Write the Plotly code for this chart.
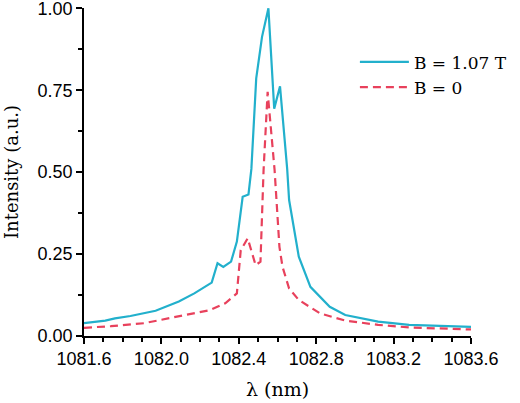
import plotly.graph_objects as go

# B = 1.07 T spectrum
lam_b = [1081.60, 1081.71, 1081.76, 1081.84, 1081.97, 1082.09, 1082.17, 1082.26,
         1082.29, 1082.32, 1082.36, 1082.39, 1082.42, 1082.45, 1082.465, 1082.49,
         1082.52, 1082.553, 1082.583, 1082.613, 1082.65, 1082.66, 1082.71, 1082.77,
         1082.87, 1082.95, 1083.12, 1083.28, 1083.60]
int_b = [0.039, 0.047, 0.054, 0.061, 0.077, 0.105, 0.130, 0.163,
         0.222, 0.211, 0.227, 0.288, 0.425, 0.432, 0.51, 0.786,
         0.913, 1.00, 0.694, 0.762, 0.51, 0.415, 0.242, 0.150,
         0.089, 0.064, 0.044, 0.034, 0.028]

# B = 0 spectrum
lam_r = [1081.60, 1081.74, 1081.91, 1082.04, 1082.17, 1082.25, 1082.33, 1082.39,
         1082.41, 1082.446, 1082.487, 1082.512, 1082.528, 1082.549, 1082.585, 1082.61,
         1082.626, 1082.66, 1082.71, 1082.82, 1082.95, 1083.12, 1083.28, 1083.60]
int_r = [0.025, 0.030, 0.039, 0.054, 0.069, 0.079, 0.100, 0.130,
         0.262, 0.298, 0.216, 0.227, 0.506, 0.745, 0.506, 0.272,
         0.211, 0.145, 0.110, 0.069, 0.047, 0.034, 0.026, 0.020]

serif = "DejaVu Serif"
sans = "Liberation Sans"

fig = go.Figure()
fig.add_trace(go.Scatter(x=lam_b, y=int_b, mode="lines", name="B = 1.07 T",
                         line=dict(color="#22b0cc", width=2.2), cliponaxis=False))
fig.add_trace(go.Scatter(x=lam_r, y=int_r, mode="lines", name="B = 0",
                         line=dict(color="#e8415c", width=2.2, dash="8px,5px"),
                         cliponaxis=False))

axis_common = dict(showline=True, linecolor="black", linewidth=1.5, ticks="outside",
                   tickcolor="black", tickwidth=1.5, ticklen=6, showgrid=False,
                   zeroline=False, mirror=False, ticklabeloverflow="allow",
                   automargin=False,
                   tickfont=dict(family=sans, size=18, color="black"))

fig.update_xaxes(range=[1081.6, 1083.6], dtick=0.4, tick0=1081.6, tickformat=".1f",
                 minor=dict(dtick=0.1, ticks="outside", ticklen=4, tickcolor="black",
                            tickwidth=1.5),
                 title=dict(text="λ (nm)", font=dict(family=serif, size=19, color="black"),
                            standoff=14),
                 **axis_common)
fig.update_yaxes(range=[0, 1.001], dtick=0.25, tick0=0, tickformat=".2f",
                 minor=dict(dtick=0.125, ticks="outside", ticklen=4, tickcolor="black",
                            tickwidth=1.5),
                 title=dict(text="Intensity (a.u.)", font=dict(family=serif, size=18, color="black"),
                            standoff=14),
                 **axis_common)

fig.update_layout(
    width=520, height=403,
    margin=dict(l=84, r=28, t=8, b=67),
    plot_bgcolor="white", paper_bgcolor="white",
    legend=dict(x=0.70, y=0.889, xanchor="left", yanchor="top", itemwidth=49,
                font=dict(family=serif, size=17, color="black"),
                bgcolor="rgba(0,0,0,0)", tracegroupgap=0),
)

fig.write_html("out.html", config={"displayModeBar": False},
               post_script="document.body.style.margin='0px';")
